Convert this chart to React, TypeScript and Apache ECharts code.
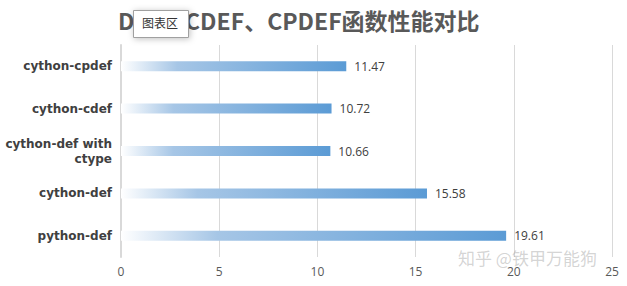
import React, { useEffect, useRef } from "react";
import * as echarts from "echarts";

const categories = ["python-def", "cython-def", "cython-def with\nctype", "cython-cdef", "cython-cpdef"];
const values = [19.61, 15.58, 10.66, 10.72, 11.47];
const xTicks = [0, 5, 10, 15, 20, 25];
const titleText = "DEF、CDEF、CPDEF函数性能对比";
const tooltipText = "图表区";
const watermark = "知乎 @铁甲万能狗";

export default function App() {
  const ref = useRef<HTMLDivElement>(null);
  useEffect(() => {
    if (!ref.current) return;
    const chart = echarts.init(ref.current, null, { renderer: "svg" });
    chart.setOption({
      animation: false,
      backgroundColor: "#ffffff",
      title: {
        text: titleText,
        left: 113,
        top: 3,
        z: 1,
        textStyle: {
          fontSize: 23,
          fontWeight: "bold",
          color: "#595959",
          fontFamily: "Noto Sans CJK SC",
        },
      },
      grid: { left: 121, right: 15, top: 45, bottom: 29, containLabel: false },
      xAxis: {
        type: "value",
        min: xTicks[0],
        max: xTicks[xTicks.length - 1],
        interval: 5,
        axisLine: { show: false },
        axisTick: { show: false },
        splitLine: { show: true, lineStyle: { color: "#d9d9d9", width: 1 } },
        axisLabel: { color: "#595959", fontSize: 12, margin: 8, fontFamily: "Open Sans" },
      },
      yAxis: {
        type: "category",
        data: categories,
        axisLine: { show: true, lineStyle: { color: "#d9d9d9", width: 2 } },
        axisTick: { show: false },
        axisLabel: {
          color: "#404040",
          fontSize: 12,
          fontWeight: "bold",
          fontFamily: "DejaVu Sans",
          margin: 9,
          align: "right",
          lineHeight: 15,
        },
      },
      series: [
        {
          type: "bar",
          data: values,
          barWidth: 10,
          itemStyle: {
            color: new echarts.graphic.LinearGradient(0, 0, 1, 0, [
              { offset: 0, color: "#ffffff" },
              { offset: 0.25, color: "#a6c6e6" },
              { offset: 1, color: "#5b9bd5" },
            ]),
          },
          label: {
            show: true,
            position: "right",
            distance: 8,
            color: "#404040",
            fontSize: 12,
            fontFamily: "Open Sans",
            formatter: (p: any) => p.value.toFixed(2),
          },
        },
      ],
      graphic: [
        {
          type: "text",
          left: 458,
          top: 249,
          z: 100,
          style: {
            text: watermark,
            fill: "rgba(160,160,160,0.45)",
            fontSize: 17,
            fontFamily: "Noto Sans CJK SC",
            letterSpacing: 1,
          },
        },
        {
          type: "rect",
          left: 133,
          top: 10,
          z: 200,
          shape: { x: 0, y: 0, width: 55, height: 27 },
          style: {
            fill: "#ffffff",
            stroke: "#a0a0a0",
            lineWidth: 1,
            shadowBlur: 6,
            shadowColor: "rgba(0,0,0,0.25)",
            shadowOffsetX: 1,
            shadowOffsetY: 1,
          },
        },
        {
          type: "text",
          left: 142,
          top: 16,
          z: 201,
          style: {
            text: tooltipText,
            fill: "#333333",
            fontSize: 12,
            fontFamily: "Noto Sans CJK SC",
          },
        },
      ],
    });
    return () => chart.dispose();
  }, []);
  return <div ref={ref} style={{ width: 627, height: 286, position: "absolute", left: 0, top: 0 }} />;
}
